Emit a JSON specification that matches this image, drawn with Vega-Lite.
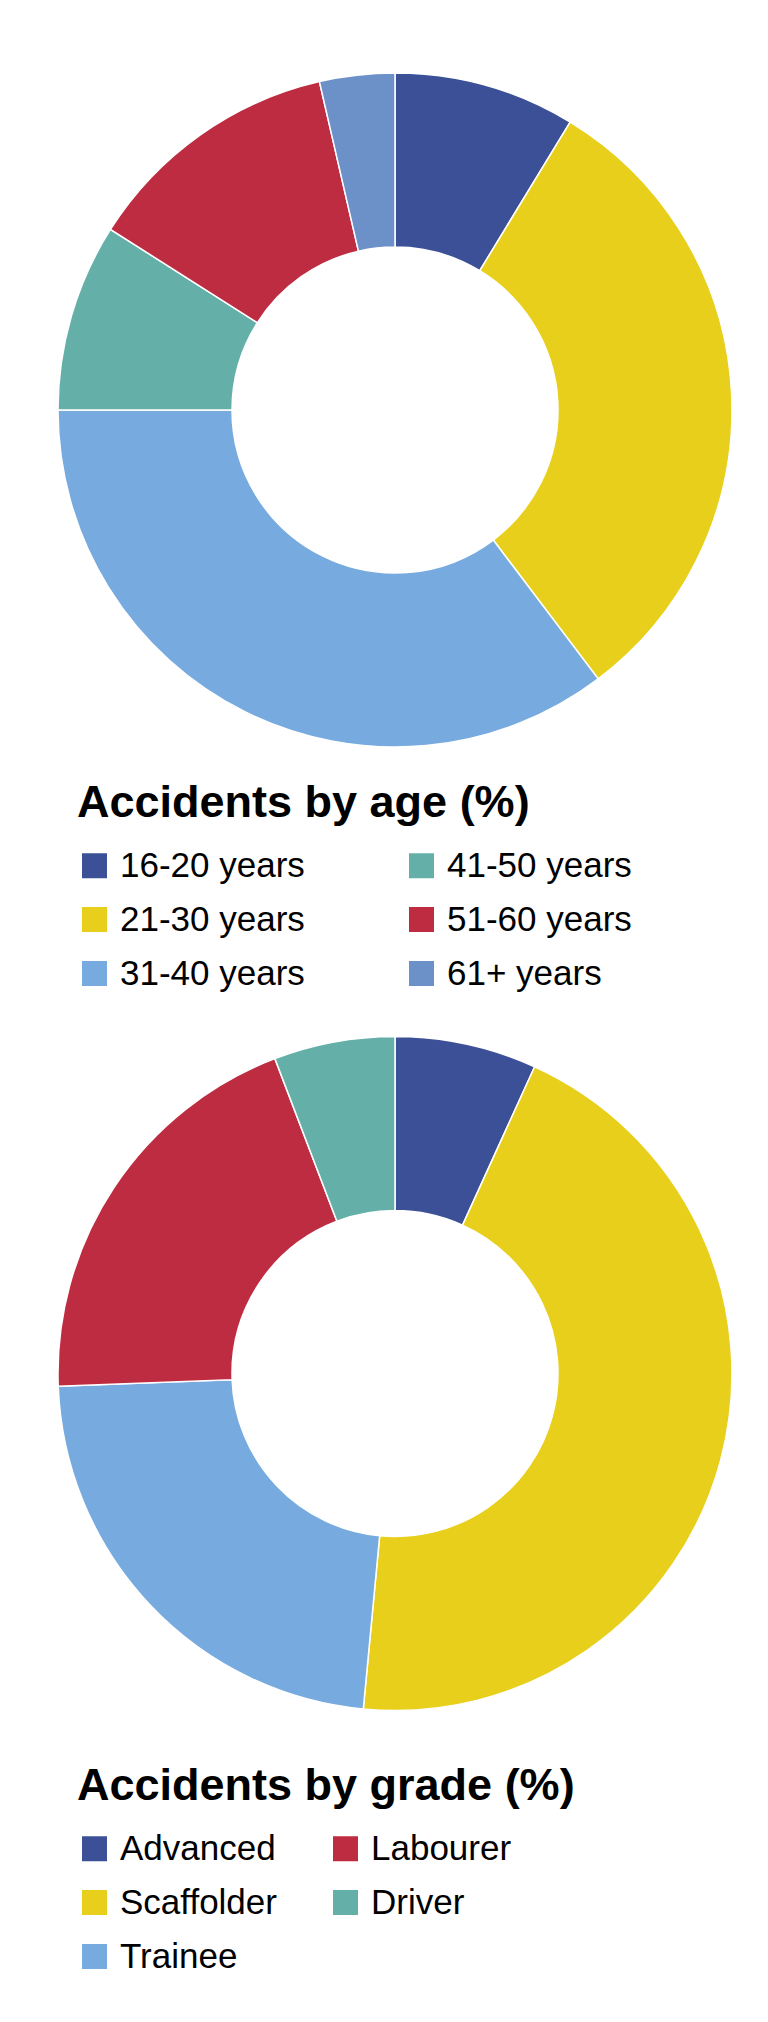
{
  "$schema": "https://vega.github.io/schema/vega-lite/v6.json",
  "padding": {"left": 22, "top": 0, "right": 0, "bottom": 0},
  "background": "white",
  "config": {
    "view": {"stroke": null},
    "font": "Liberation Sans",
    "legend": {
      "orient": "none",
      "legendX": 55,
      "columns": 2,
      "symbolType": "square",
      "symbolSize": 625,
      "symbolStrokeWidth": 0,
      "symbolOpacity": 1,
      "labelFont": "Liberation Sans",
      "labelFontSize": 35,
      "labelColor": "#000000",
      "labelOffset": 8,
      "labelLimit": 400,
      "titleFont": "Liberation Sans",
      "titleFontSize": 45,
      "titleFontWeight": "bold",
      "titleColor": "#000000",
      "titleLimit": 700,
      "titlePadding": 22,
      "rowPadding": 18
    }
  },
  "bounds": "flush",
  "spacing": 0,
  "vconcat": [
    {
      "width": 746,
      "height": 820,
      "data": {
        "values": [
          {"age": "16-20 years", "pct": 8.7, "rank": 1},
          {"age": "21-30 years", "pct": 31.0, "rank": 2},
          {"age": "31-40 years", "pct": 35.3, "rank": 3},
          {"age": "41-50 years", "pct": 9.0, "rank": 4},
          {"age": "51-60 years", "pct": 12.4, "rank": 5},
          {"age": "61+ years", "pct": 3.6, "rank": 6}
        ]
      },
      "mark": {"type": "arc", "innerRadius": 163, "outerRadius": 337, "stroke": "white", "strokeWidth": 1.5},
      "encoding": {
        "theta": {"field": "pct", "type": "quantitative", "stack": true},
        "order": {"field": "rank", "type": "quantitative"},
        "color": {
          "field": "age",
          "type": "nominal",
          "scale": {
            "domain": ["16-20 years", "21-30 years", "31-40 years", "41-50 years", "51-60 years", "61+ years"],
            "range": ["#3c5097", "#e8cf1c", "#77abdf", "#64b0a8", "#be2c41", "#6c90c8"]
          },
          "legend": {
            "title": "Accidents by age (%)",
            "legendY": 781,
            "columnPadding": 99
          }
        }
      }
    },
    {
      "width": 746,
      "height": 1107,
      "data": {
        "values": [
          {"grade": "Advanced", "pct": 6.8, "rank": 1},
          {"grade": "Scaffolder", "pct": 44.7, "rank": 2},
          {"grade": "Trainee", "pct": 22.9, "rank": 3},
          {"grade": "Labourer", "pct": 19.8, "rank": 4},
          {"grade": "Driver", "pct": 5.8, "rank": 5}
        ]
      },
      "mark": {"type": "arc", "innerRadius": 163, "outerRadius": 337, "stroke": "white", "strokeWidth": 1.5},
      "encoding": {
        "theta": {"field": "pct", "type": "quantitative", "stack": true},
        "order": {"field": "rank", "type": "quantitative"},
        "color": {
          "field": "grade",
          "type": "nominal",
          "scale": {
            "domain": ["Advanced", "Scaffolder", "Trainee", "Labourer", "Driver"],
            "range": ["#3c5097", "#e8cf1c", "#77abdf", "#be2c41", "#64b0a8"]
          },
          "legend": {
            "title": "Accidents by grade (%)",
            "legendY": 944,
            "columnPadding": 51
          }
        }
      }
    }
  ],
  "resolve": {"scale": {"color": "independent"}, "legend": {"color": "independent"}}
}
